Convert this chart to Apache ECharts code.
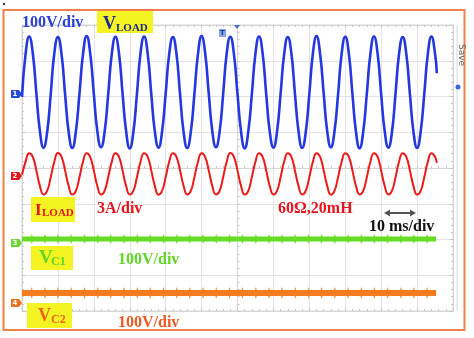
<!DOCTYPE html>
<html><head><meta charset="utf-8">
<script src="https://cdn.jsdelivr.net/npm/echarts@6/dist/echarts.min.js"></script>
<style>html,body{margin:0;padding:0;background:#fff}#c{width:474px;height:338px}</style>
</head><body><div id="c"></div>
<script>
// time samples in ms (10 ms/div, 12 divisions)
const timeMs = [0,1,2,3,4,5,6,7,8,9,10,11,12,13,14,15,16,17,18,19,20,21,22,23,24,25,26,27,28,29,30,31,32,33,34,35,36,37,38,39,40,41,42,43,44,45,46,47,48,49,50,51,52,53,54,55,56,57,58,59,60,61,62,63,64,65,66,67,68,69,70,71,72,73,74,75,76,77,78,79,80,81,82,83,84,85,86,87,88,89,90,91,92,93,94,95,96,97,98,99,100,101,102,103,104,105,106,107,108,109,110,111,112,113,114,115,115.5];
// V_LOAD in volts (100 V/div)
const vLoad = [
 -8,112,161,114,2,-105,-150,-107,
 0,114,159,112,-1,-107,-151,-105,
 1,113,162,113,0,-106,-149,-106,
 -1,112,160,114,1,-105,-152,-107,
 0,114,161,112,-1,-106,-150,-105,
 1,113,159,113,0,-107,-151,-106,
 0,112,162,114,1,-105,-149,-107,
 -1,114,160,112,0,-106,-152,-105,
 0,113,161,113,-1,-107,-150,-106,
 1,112,159,114,0,-105,-151,-107,
 0,114,162,112,1,-106,-149,-105,
 -1,113,160,113,0,-107,-152,-106,
 0,112,161,114,-1,-105,-150,-107,
 1,114,159,112,0,-106,-151,-105,
 0,113,161,113,58];
// I_LOAD in amps (3 A/div)
const iLoad = [
 0.1,1.2,1.9,1.6,0.45,-0.85,-1.55,-1.25,
 -0.1,1.2,1.92,1.6,0.45,-0.85,-1.56,-1.25,
 -0.1,1.22,1.9,1.58,0.45,-0.86,-1.55,-1.24,
 -0.1,1.2,1.9,1.6,0.44,-0.85,-1.55,-1.25,
 -0.11,1.2,1.91,1.6,0.45,-0.85,-1.57,-1.25,
 -0.1,1.21,1.9,1.6,0.46,-0.84,-1.55,-1.25,
 -0.1,1.2,1.9,1.59,0.45,-0.85,-1.55,-1.26,
 -0.1,1.2,1.92,1.6,0.45,-0.85,-1.56,-1.25,
 -0.09,1.2,1.9,1.6,0.45,-0.86,-1.55,-1.25,
 -0.1,1.21,1.9,1.6,0.44,-0.85,-1.55,-1.24,
 -0.1,1.2,1.91,1.6,0.45,-0.85,-1.57,-1.25,
 -0.1,1.2,1.9,1.61,0.45,-0.84,-1.55,-1.25,
 -0.11,1.2,1.9,1.6,0.45,-0.85,-1.55,-1.25,
 -0.1,1.22,1.91,1.6,0.46,-0.85,-1.56,-1.25,
 -0.1,1.2,1.9,1.6,1.1];
// capacitor voltages (100 V/div), nearly flat with ripple
const capTimeMs = [0, 115.3];
const vC1 = [11, 11];
const vC2 = [28, 28];
const rippleSpikeMs = [2.7,6.4,10.0,13.7,17.4,21.1,24.7,28.4,32.1,35.7,39.4,43.1,46.7,50.4,54.1,57.8,61.4,65.1,68.8,72.4,76.1,79.8,83.4,87.1,90.8,94.5,98.1,101.8,105.5,109.1,112.8];
const vC1Spike = [11,11,11,11,11,11,11,11,11,11,11,11,11,11,11,11,11,11,11,11,11,11,11,11,11,11,11,11,11,11,11];
const vC2Spike = [28,28,28,28,28,28,28,28,28,28,28,28,28,28,28,28,28,28,28,28,28,28,28,28,28,28,28,28,28,28,28];

const serif = '"Liberation Serif","Times New Roman",serif';
const gridCol = '#e4e4e4', tickCol = '#c8c8c8';

function gratX(pos, onZero, split) {
  return {type:'value', min:-60, max:60, interval:10, position:pos,
    axisLine:{show:true, onZero:onZero, onZeroAxisIndex:0, lineStyle:{color:'#d6d6d6'}},
    axisTick:{show:true, inside:true, length:3, lineStyle:{color:tickCol}},
    minorTick:{show:true, splitNumber:5, length:2, lineStyle:{color:tickCol}},
    axisLabel:{show:false}, splitLine:{show:split, lineStyle:{color:gridCol}}, minorSplitLine:{show:false}};
}
function gratY(pos, onZero, split) {
  return {type:'value', min:-4, max:4, interval:1, position:pos,
    axisLine:{show:true, onZero:onZero, onZeroAxisIndex:0, lineStyle:{color:'#d6d6d6'}},
    axisTick:{show:true, inside:true, length:3, lineStyle:{color:tickCol}},
    minorTick:{show:true, splitNumber:5, length:2, lineStyle:{color:tickCol}},
    axisLabel:{show:false}, splitLine:{show:split, lineStyle:{color:gridCol}}};
}
function txt(x, y, s, size, color, extra) {
  return Object.assign({type:'text', x:x, y:y, z:100, style:{text:s, fill:color, fontSize:size, fontFamily:serif, fontWeight:'bold', align:'left', verticalAlign:'middle'}}, extra||{});
}
function flag(y, color, label) {
  return [
    {type:'polygon', z:90, shape:{points:[[11,y-4],[19,y-4],[22,y],[19,y+4],[11,y+4]]}, style:{fill:color}},
    {type:'text', x:15, y:y, z:91, style:{text:label, fill:'#fff', fontSize:7, fontFamily:'DejaVu Sans', fontWeight:'bold', align:'center', verticalAlign:'middle'}}
  ];
}

const chart = echarts.init(document.getElementById('c'), null, {renderer:'canvas'});
chart.setOption({
  animation:false,
  backgroundColor:'#ffffff',
  grid:{left:22, top:25, width:431, height:286, show:true, borderColor:'#d6d6d6', borderWidth:1},
  xAxis:[ gratX('bottom', true, true), {type:'value', min:0, max:120, show:false}, gratX('top', false, false), gratX('bottom', false, false) ],
  yAxis:[ gratY('left', true, true),
    {type:'value', min:-607, max:193, show:false},
    {type:'value', min:-11.33, max:12.67, show:false},
    {type:'value', min:-190.2, max:609.8, show:false},
    {type:'value', min:-22.4, max:777.6, show:false},
    gratY('left', false, false), gratY('right', false, false) ],
  series:[
    {type:'line', xAxisIndex:1, yAxisIndex:1, smooth:0.5, showSymbol:false, silent:true,
     data: timeMs.map((t,i)=>[t, vLoad[i]]), lineStyle:{color:'#2437e0', width:2.6}},
    {type:'line', xAxisIndex:1, yAxisIndex:2, smooth:0.5, showSymbol:false, silent:true,
     data: timeMs.map((t,i)=>[t, iLoad[i]]), lineStyle:{color:'#ee1a1a', width:2}},
    {type:'line', xAxisIndex:1, yAxisIndex:3, showSymbol:false, silent:true,
     data: capTimeMs.map((t,i)=>[t, vC1[i]]), lineStyle:{color:'#66dc22', width:5}},
    {type:'scatter', xAxisIndex:1, yAxisIndex:3, symbol:'diamond', symbolSize:[4,10], silent:true,
     data: rippleSpikeMs.map((t,i)=>[t, vC1Spike[i]]), itemStyle:{color:'#66dc22'}},
    {type:'line', xAxisIndex:1, yAxisIndex:4, showSymbol:false, silent:true,
     data: capTimeMs.map((t,i)=>[t, vC2[i]]), lineStyle:{color:'#f57c1f', width:6}},
    {type:'scatter', xAxisIndex:1, yAxisIndex:4, symbol:'diamond', symbolSize:[4,12], silent:true,
     data: rippleSpikeMs.map((t,i)=>[t, vC2Spike[i]]), itemStyle:{color:'#f57c1f'}}
  ],
  graphic:[].concat(
    [
      {type:'rect', z:80, shape:{x:3.5, y:10, width:461, height:320}, style:{fill:'none', stroke:'#f0804a', lineWidth:2}},
      {type:'circle', z:80, shape:{cx:4, cy:4, r:1.2}, style:{fill:'#333'}},
      {type:'line', z:80, shape:{x1:457, y1:25, x2:457, y2:311}, style:{stroke:'#d6d6d6', lineWidth:1}},
      {type:'text', x:461, y:55, z:100, rotation:-Math.PI/2, style:{text:'Save', fill:'#666', fontSize:9, fontFamily:'DejaVu Sans', align:'center', verticalAlign:'middle'}},
      {type:'circle', z:90, shape:{cx:458, cy:87, r:2.5}, style:{fill:'#3a66dd'}},
      {type:'polygon', z:90, shape:{points:[[234,25],[240,25],[237,29]]}, style:{fill:'#4a6fd0'}},
      {type:'rect', z:90, shape:{x:219, y:29, width:7, height:8}, style:{fill:'#8aa6e6'}},
      {type:'text', x:222.5, y:33, z:91, style:{text:'T', fill:'#1f3c9a', fontSize:7, fontFamily:'DejaVu Sans', fontWeight:'bold', align:'center', verticalAlign:'middle'}},
      {type:'rect', z:95, shape:{x:97, y:11, width:56, height:22}, style:{fill:'#f4f423'}},
      {type:'rect', z:95, shape:{x:31, y:197, width:44, height:25}, style:{fill:'#f4f423'}},
      {type:'rect', z:95, shape:{x:31, y:246, width:42, height:24}, style:{fill:'#f4f423'}},
      {type:'rect', z:95, shape:{x:27, y:303, width:45, height:25}, style:{fill:'#f4f423'}},
      {type:'line', z:90, shape:{x1:388, y1:213, x2:412, y2:213}, style:{stroke:'#555', lineWidth:2}},
      {type:'polygon', z:90, shape:{points:[[384,213],[390,209.5],[390,216.5]]}, style:{fill:'#555'}},
      {type:'polygon', z:90, shape:{points:[[416,213],[410,209.5],[410,216.5]]}, style:{fill:'#555'}}
    ],
    flag(94, '#2a4bd8', '1'), flag(176, '#e8141c', '2'), flag(243, '#6cd630', '3'), flag(303, '#f07020', '4'),
    [
      txt(22, 23, '100V/div', 16, '#2b3fdc'),
      txt(103, 24, 'V', 18, '#1e2a8a'), txt(116, 28.5, 'LOAD', 11, '#1e2a8a'),
      txt(35, 210.5, 'I', 17, '#e8141c'), txt(42, 213.5, 'LOAD', 11, '#e8141c'),
      txt(97, 209, '3A/div', 16, '#e8141c'),
      txt(278, 209, '60Ω,20mH', 16, '#e8141c'),
      txt(369, 227, '10 ms/div', 16, '#111'),
      txt(39, 258, 'V', 19, '#5fd828'), txt(51, 262, 'C1', 12, '#5fd828'),
      txt(118, 260, '100V/div', 16, '#62d62a'),
      txt(38, 316, 'V', 18, '#f0641e'), txt(51, 319.5, 'C2', 12, '#f0641e'),
      txt(118, 323, '100V/div', 16, '#ee5a24')
    ]
  )
});
</script></body></html>
